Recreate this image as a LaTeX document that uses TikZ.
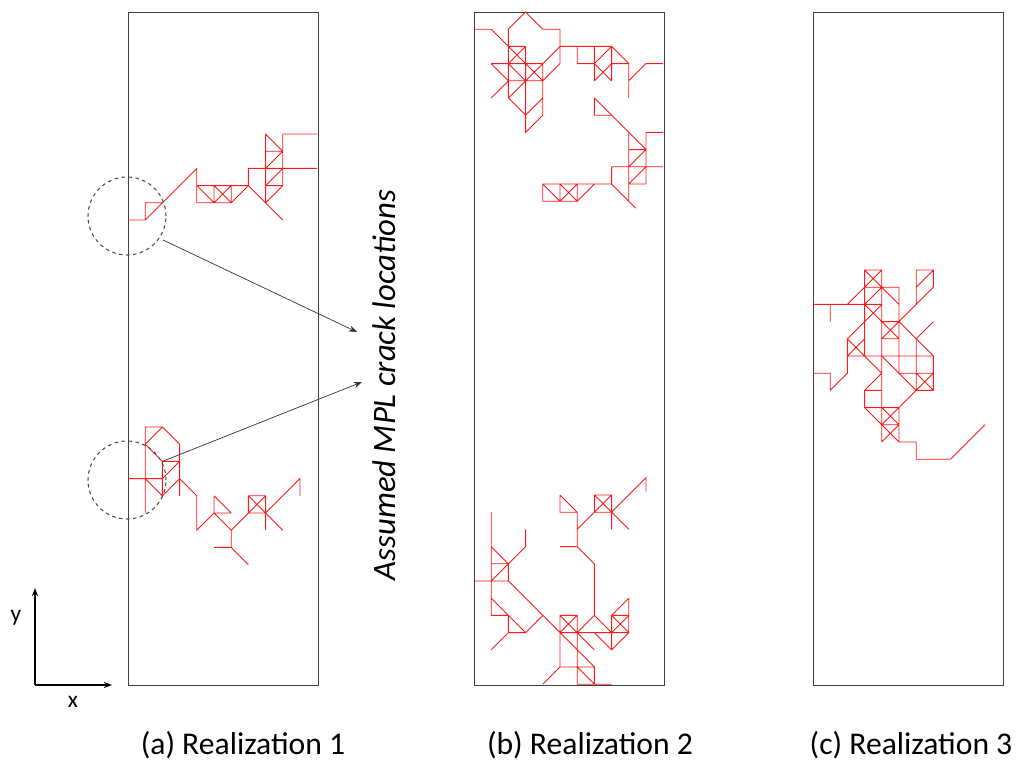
\documentclass[tikz,border=0pt]{standalone}
\usepackage{fontspec}
\setmainfont{Carlito}
\usetikzlibrary{arrows.meta, positioning}

\begin{document}
\begin{tikzpicture}[
    x=0.3mm, y=-0.3mm,
    % Estilos globales
    panel/.style = {draw=black!75, line width=0.9pt, minimum width=57mm, minimum height=201.9mm, inner sep=0pt, anchor=north west},
    crack/.style = {draw=red!90, line width=0.75pt},
    grid at/.style 2 args = {xshift=#1*0.3mm, yshift=-#2*0.3mm, x=5.16mm, y=-5.16mm},
    zone/.style = {draw=black!70, dashed, line width=0.9pt, circle, minimum size=23.4mm, inner sep=0pt},
    pointer/.style = {draw=black!80, -{Stealth[length=7pt]}, line width=0.6pt},
    caption/.style = {font=\fontsize{27}{31}\selectfont}
]
    \useasboundingbox (0,0) rectangle (1024,771);

    % --- PANELES ---
    \node [panel] (pa) at (128,12) {};
    \node [panel] (pb) at (474,12) {};
    \node [panel] (pc) at (813,12) {};

    \node [caption] (capa) at (243,745) {(a) Realization 1};
    \node [caption] (capb) at (590,745) {(b) Realization 2};
    \node [caption] (capc) at (911,745) {(c) Realization 3};

    % --- GRIETAS (a) ---
    \begin{scope}[grid at={128}{134}]
        \draw [crack] (0,5)--(1,5)--(1,4)--(2,4) (1,5)--(4,2)--(4,3) (4,3)--(7,3)--(7,2)--(11,2)
            (7,3)--(9,5) (4,4)--(6,4) (4,3)--(4,4) (5,3)--(5,4) (6,3)--(6,4)
            (4,3)--(5,4) (5,3)--(6,4) (5,4)--(6,3) (6,4)--(7,3)
            (8,0)--(8,4) (8,0)--(9,1) (9,0)--(11,0) (9,0)--(9,3) (8,1)--(9,1) (8,3)--(9,3)
            (9,1)--(8,2) (9,2)--(8,3) (9,3)--(8,4);
    \end{scope}
    \begin{scope}[grid at={128}{427}]
        \draw [crack] (1,0)--(1,5) (1,0)--(2,0)--(3,1)--(3,4) (2,0)--(1,1)--(2,2) (2,2)--(3,2)
            (2,2)--(2,4) (3,2)--(2,3) (0,3)--(2,3) (1,3)--(2,4)--(3,3)
            (3,3)--(4,4)--(4,6)--(5,5) (5,4)--(5,5)--(6,5) (5,4)--(6,5)
            (5,5)--(6,6)--(6,7) (5,7)--(6,7)--(7,8) (6,6)--(7,5)
            (7,4) rectangle (8,5) (7,4)--(8,5) (8,4)--(7,5) (8,5)--(8,6) (8,5)--(9,6)
            (8,5)--(10,3)--(10,4);
        \coordinate (tipa) at (2,2);
    \end{scope}

    % --- GRIETAS (b) ---
    \begin{scope}[grid at={474}{12}]
        \draw [crack] (0,1)--(1,1)--(2,2) (2,1)--(2,5) (2,1)--(3,0)--(4,1)--(5,1)--(5,3)--(4,4)
            (2,2)--(3,2) (5,2)--(8,2) (5,2)--(4,3) (3,2)--(3,6) (1,3)--(4,3) (2,4)--(4,4)
            (4,3)--(4,6) (2,2)--(4,4) (3,2)--(2,3) (4,3)--(3,4) (1,3)--(2,4)--(1,5)
            (2,5)--(3,6)--(4,5) (3,6)--(3,7)--(4,6) (3,4)--(2,5) (2,3)--(3,4)
            (6,2)--(6,3)--(7,3) (7,2)--(7,4) (8,2)--(8,4) (7,3)--(8,4) (8,3)--(7,4) (8,2)--(7,3)
            (8,2)--(9,3)--(9,5) (8,3)--(9,3) (9,4)--(10,3)--(11,3)
            (7,5)--(7,6)--(8,6) (7,5)--(9,7)--(9,11)--(9.4,11.4) (9,7)--(10,8) (10,7)--(10,10)
            (10,7)--(11,7) (9,8)--(10,8) (10,8)--(9,9) (8,9)--(11,9) (8,9)--(8,10)--(9,11)
            (10,9)--(9,10) (9,10)--(10,10)
            (4,10) rectangle (6,11) (5,10)--(5,11) (4,10)--(5,11) (5,10)--(6,11) (6,10)--(5,11)
            (6,10)--(8,10) (6,11)--(7,10);
    \end{scope}
    \begin{scope}[grid at={474}{495}]
        \draw [crack] (1,1)--(1,7) (1,3)--(2,4) (1,4) rectangle (2,5) (1,5)--(2,4)
            (2,4)--(3,3)--(3,2) (0,5)--(2,5) (2,5)--(7,10)
            (1,6)--(2,7) (1,7)--(2,7)--(2,8)--(3,8) (2,7)--(3,8)--(4,7) (2,8)--(1,9)
            (5,0)--(5,1)--(6,1)--(6,3) (5,0)--(6,1) (5,3)--(6,3) (6,2)--(7,1)
            (7,0) rectangle (8,1) (7,0)--(8,1) (8,0)--(7,1) (8,1)--(8,2) (8,1)--(9,2)
            (8,1)--(10,-1)--(10,-0.2) (6,3)--(7,4)--(7,7)
            (5,7) rectangle (6,8) (5,7)--(6,8) (6,7)--(5,8) (5,7)--(5,10) (6,7)--(6,11)
            (5,8)--(9,8) (5,10)--(7,10)--(7,11) (5,10)--(4,11) (6,10)--(7,11) (6,11)--(8,11)
            (6,8)--(7,7)--(8,8) (7,8)--(8,9) (6,8)--(7,9) (8,7)--(8,9)
            (8,7) rectangle (9,8) (8,7)--(9,8) (9,7)--(8,8) (9,6)--(9,8) (8,7)--(9,6) (8,9)--(9,8);
    \end{scope}

    % --- GRIETAS (c) ---
    \begin{scope}[grid at={813}{270}]
        \draw [crack] (0,2)--(4,2) (1,2)--(1,3) (2,2)--(3,1)
            (3,0) rectangle (4,1) (3,0)--(4,1) (4,0)--(3,1) (3,0)--(3,5) (4,0)--(4,10)
            (3,1)--(5,1)--(5,6) (4,1)--(5,2) (4,1)--(3,2)
            (4,3) rectangle (5,4) (4,3)--(5,4) (5,3)--(4,4) (3,2)--(4,3)
            (4,2)--(2,4)--(2,5) (2,4)--(3,5) (3,4)--(2,5) (2,5)--(7,5) (3,5)--(4,6) (4,5)--(6,7)
            (5,3)--(7,5) (6,4)--(6,7) (6,4)--(7,3) (5,3)--(7,1)
            (6,0)--(6,2) (6,0)--(7,0)--(7,1) (6,1)--(7,0)
            (7,5)--(7,7) (5,6)--(7,6) (6,6)--(7,7) (7,6)--(6,7) (6,7)--(7,7)
            (4,6)--(3,7)--(4,7) (3,7)--(3,8)--(5,8)--(5,10) (5,8)--(6,7)
            (3,8)--(4,9)--(5,9) (4,8)--(5,9) (5,8)--(4,9) (4,9)--(5,10) (5,9)--(4,10)
            (5,10)--(6,10)--(6,11)--(8,11)--(10,9)
            (0,6)--(1,6)--(1,7)--(2,6)--(2,5);
    \end{scope}

    % --- ZONAS MPL ---
    \node [zone] (za) at (127,216) {};
    \node [zone] (zb) at (127,480) {};
    \coordinate (taila) at (163,240);
    \node [rotate=90, font=\fontsize{28}{32}\selectfont\itshape] (mpl) at (384,385) {Assumed MPL crack locations};
    \coordinate (heada) at (357,332);
    \coordinate (headb) at (362,382);
    \draw [pointer] (taila) -- (heada);
    \draw [pointer] (tipa) -- (headb);

    % --- EJES ---
    \coordinate (orig) at (35,685);
    \coordinate (yend) at (35,588);
    \coordinate (xend) at (112,685);
    \draw [-{Stealth[length=7pt]}, line width=1.6pt] (orig) -- (yend);
    \draw [-{Stealth[length=7pt]}, line width=1.6pt] (orig) -- (xend);
    \node [font=\fontsize{20}{24}\selectfont] (ylab) at (16,618) {y};
    \node [font=\fontsize{20}{24}\selectfont] (xlab) at (73,702) {x};

\end{tikzpicture}
\end{document}
